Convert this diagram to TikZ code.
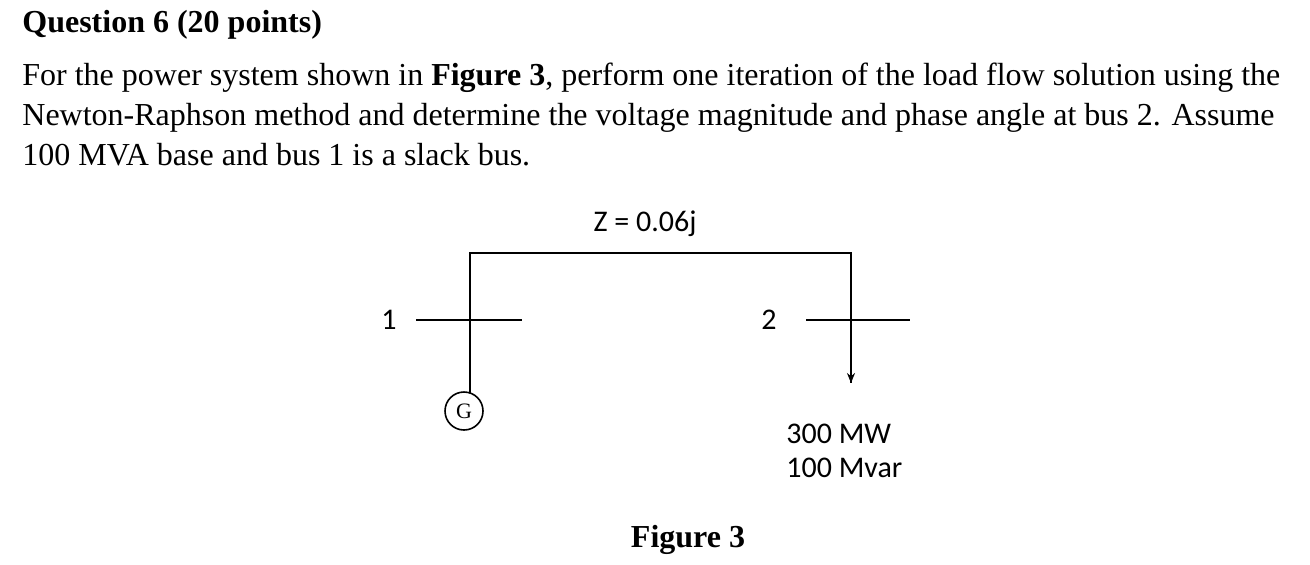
\documentclass[tikz,border=0pt]{standalone}
\usepackage{fontspec}
\setmainfont{Liberation Serif}
\newfontfamily\calfont{Carlito}
\usetikzlibrary{arrows.meta}
\begin{document}
\begin{tikzpicture}[x=0.5pt,y=-0.5pt,
  txt/.style={anchor=base west,inner sep=0,font=\fontsize{16}{18}\selectfont},
  lab/.style={inner sep=0,font=\calfont\fontsize{15}{17}\selectfont},
  wire/.style={line width=0.8pt}]
\useasboundingbox (0,0) rectangle (1310,564);
\node[txt,font=\bfseries\fontsize{16}{18}\selectfont] (title) at (22,32) {Question 6 (20 points)};
\node[txt] (l1) at (22,85) {For the power system shown in \textbf{Figure 3}, perform one iteration of the load flow solution using the};
\node[txt] (l2) at (22,125) {Newton-Raphson method and determine the voltage magnitude and phase angle at bus 2. Assume};
\node[txt] (l3) at (22,165) {100 MVA base and bus 1 is a slack bus.};
\node[lab] (z) at (645,224) {Z = 0.06j};
\coordinate (a) at (470,253);
\coordinate (b) at (851,253);
\coordinate (b1l) at (416,320); \coordinate (b1r) at (522,320);
\coordinate (b2l) at (806,320); \coordinate (b2r) at (910,320);
\coordinate (ld) at (851,383);
\node[draw,circle,wire,minimum size=19pt,inner sep=0,font=\fontsize{11}{12}\selectfont] (g) at (464,411) {G};
\draw[wire] (470,393) -- (a) -- (b) -- (ld);
\draw[wire,-{Stealth[length=5pt,width=4pt]}] (851,370) -- (ld);
\draw[wire] (b1l) -- (b1r);
\draw[wire] (b2l) -- (b2r);
\node[lab] (n1) at (389,320) {1};
\node[lab] (n2) at (769,320) {2};
\node[lab,anchor=west] (p) at (786,434) {300 MW};
\node[lab,anchor=west] (q) at (786,468) {100 Mvar};
\node[inner sep=0,font=\bfseries\fontsize{16}{18}\selectfont] (f) at (688,540) {Figure 3};
\end{tikzpicture}
\end{document}
